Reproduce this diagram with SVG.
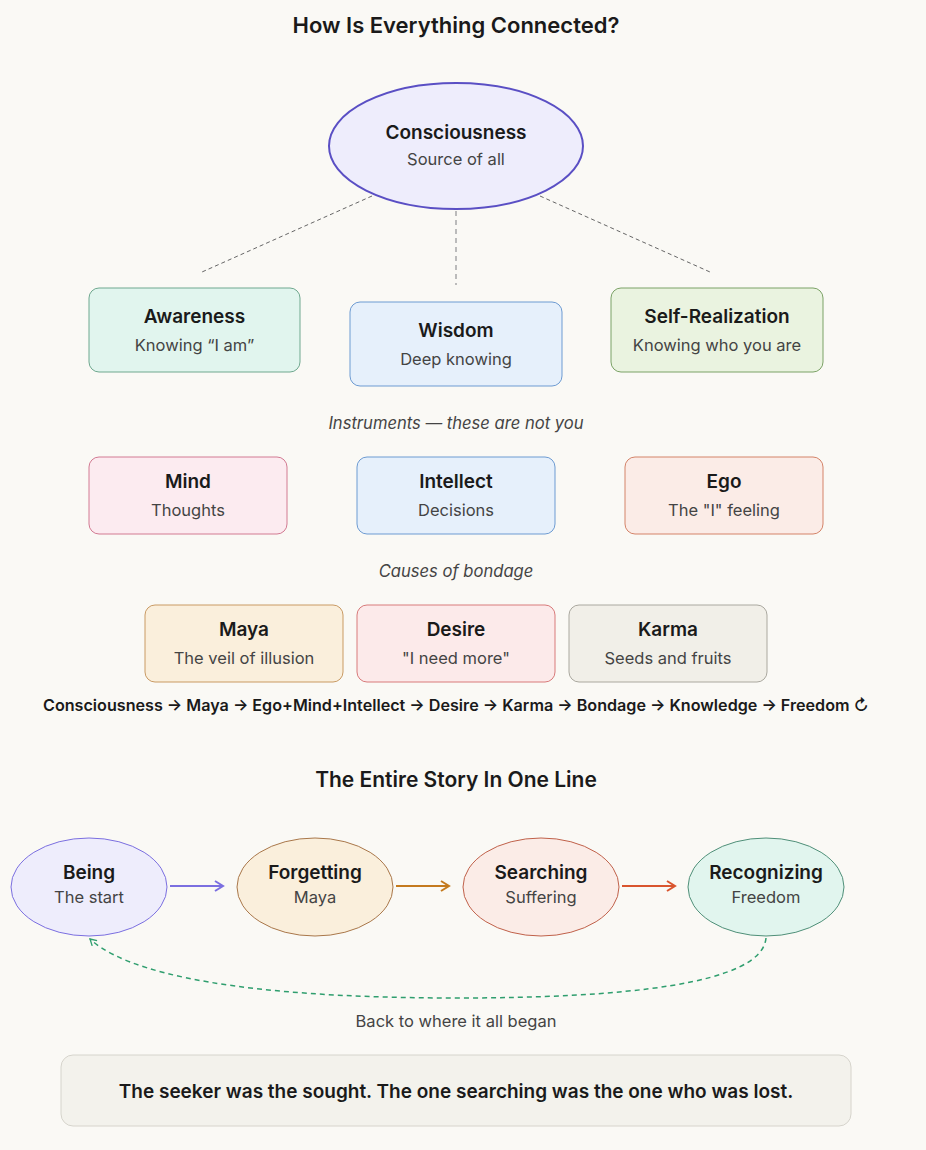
<svg xmlns="http://www.w3.org/2000/svg" width="926" height="1150" viewBox="0 0 926 1150">
<defs>
<style>
text{font-family:Inter,"Noto Sans","Liberation Sans",sans-serif;text-anchor:middle;dominant-baseline:central}
.h{font-size:22px;font-weight:600;fill:#1a1a1a}
.t{font-size:19px;font-weight:600;fill:#1a1a1a}
.s{font-size:16.5px;fill:#444}
.i{font-size:16.6px;font-style:italic;fill:#444}
</style>
<marker id="ap" viewBox="0 0 12 12" refX="10" refY="6" markerWidth="12" markerHeight="12" markerUnits="userSpaceOnUse" orient="auto"><path d="M2,1 L10,6 L2,11" fill="none" stroke="#7b6fe0" stroke-width="2"/></marker>
<marker id="ao" viewBox="0 0 12 12" refX="10" refY="6" markerWidth="12" markerHeight="12" markerUnits="userSpaceOnUse" orient="auto"><path d="M2,1 L10,6 L2,11" fill="none" stroke="#c47a1e" stroke-width="2"/></marker>
<marker id="ar" viewBox="0 0 12 12" refX="10" refY="6" markerWidth="12" markerHeight="12" markerUnits="userSpaceOnUse" orient="auto"><path d="M2,1 L10,6 L2,11" fill="none" stroke="#d9552e" stroke-width="2"/></marker>
<marker id="ag" viewBox="0 0 10 10" refX="8" refY="5" markerWidth="9" markerHeight="9" markerUnits="userSpaceOnUse" orient="auto"><path d="M1,1 L8,5 L1,9" fill="none" stroke="#2f9e6e" stroke-width="1.5"/></marker>
</defs>
<rect width="926" height="1150" fill="#faf9f5"/>
<text class="h" x="456" y="25">How Is Everything Connected?</text>

<g id="connectors">
<line x1="372" y1="196" x2="202" y2="272" stroke="#666" stroke-width="1" stroke-dasharray="4,3"/>
<line x1="456" y1="211" x2="456" y2="285" stroke="#bbb" stroke-width="2" stroke-dasharray="5,4"/>
<line x1="540" y1="196" x2="710" y2="272" stroke="#666" stroke-width="1" stroke-dasharray="4,3"/>
<line x1="170" y1="886" x2="223" y2="886" stroke="#7b6fe0" stroke-width="2" marker-end="url(#ap)"/>
<line x1="396" y1="886" x2="449" y2="886" stroke="#c47a1e" stroke-width="2" marker-end="url(#ao)"/>
<line x1="622" y1="886" x2="675" y2="886" stroke="#d9552e" stroke-width="2" marker-end="url(#ar)"/>
<path d="M766,938 C762,985 620,998 456,998 C300,998 140,985 90,939" fill="none" stroke="#2f9e6e" stroke-width="1.5" stroke-dasharray="5,4" marker-end="url(#ag)"/>
</g>

<g id="consciousness">
<ellipse cx="456" cy="146" rx="127" ry="63" fill="#eeedfc" stroke="#5a4fc4" stroke-width="2"/>
<text class="t" x="456" y="132">Consciousness</text>
<text class="s" x="456" y="159">Source of all</text>
</g>

<g id="awareness">
<rect x="89" y="288" width="211" height="84" rx="10" fill="#e1f5ee" stroke="#6fa88f"/>
<text class="t" x="194.5" y="316">Awareness</text>
<text class="s" x="194.5" y="345">Knowing “I am”</text>
</g>
<g id="wisdom">
<rect x="350" y="302" width="212" height="84" rx="10" fill="#e6f0fb" stroke="#6d9bd2"/>
<text class="t" x="456" y="330">Wisdom</text>
<text class="s" x="456" y="359">Deep knowing</text>
</g>
<g id="self-realization">
<rect x="611" y="288" width="212" height="84" rx="10" fill="#eaf3e0" stroke="#7ba266"/>
<text class="t" x="717" y="316">Self-Realization</text>
<text class="s" x="717" y="345">Knowing who you are</text>
</g>

<text class="i" x="456" y="423">Instruments — these are not you</text>

<g id="mind">
<rect x="89" y="457" width="198" height="77" rx="10" fill="#fcebf0" stroke="#d27a92"/>
<text class="t" x="188" y="481">Mind</text>
<text class="s" x="188" y="510">Thoughts</text>
</g>
<g id="intellect">
<rect x="357" y="457" width="198" height="77" rx="10" fill="#e6f0fb" stroke="#6d9bd2"/>
<text class="t" x="456" y="481">Intellect</text>
<text class="s" x="456" y="510">Decisions</text>
</g>
<g id="ego">
<rect x="625" y="457" width="198" height="77" rx="10" fill="#fbece7" stroke="#d48368"/>
<text class="t" x="724" y="481">Ego</text>
<text class="s" x="724" y="510">The "I" feeling</text>
</g>

<text class="i" x="456" y="571">Causes of bondage</text>

<g id="maya">
<rect x="145" y="605" width="198" height="77" rx="10" fill="#faefdc" stroke="#c99a63"/>
<text class="t" x="244" y="629">Maya</text>
<text class="s" x="244" y="658">The veil of illusion</text>
</g>
<g id="desire">
<rect x="357" y="605" width="198" height="77" rx="10" fill="#fceaea" stroke="#d87a7a"/>
<text class="t" x="456" y="629">Desire</text>
<text class="s" x="456" y="658">"I need more"</text>
</g>
<g id="karma">
<rect x="569" y="605" width="198" height="77" rx="10" fill="#f1efe8" stroke="#aaa89f"/>
<text class="t" x="668" y="629">Karma</text>
<text class="s" x="668" y="658">Seeds and fruits</text>
</g>

<text x="456" y="705" style="font-size:16px;font-weight:600;fill:#1a1a1a" textLength="826" lengthAdjust="spacingAndGlyphs">Consciousness → Maya → Ego+Mind+Intellect → Desire → Karma → Bondage → Knowledge → Freedom ↻</text>

<text class="h" x="456" y="779" style="font-size:21px">The Entire Story In One Line</text>

<g id="being">
<ellipse cx="89" cy="887" rx="78" ry="49" fill="#eeedfc" stroke="#7b6fe0"/>
<text class="t" x="89" y="872">Being</text>
<text class="s" x="89" y="897">The start</text>
</g>
<g id="forgetting">
<ellipse cx="315" cy="887" rx="78" ry="49" fill="#faefdc" stroke="#a9774a"/>
<text class="t" x="315" y="872">Forgetting</text>
<text class="s" x="315" y="897">Maya</text>
</g>
<g id="searching">
<ellipse cx="541" cy="887" rx="78" ry="49" fill="#fbece7" stroke="#c0614a"/>
<text class="t" x="541" y="872">Searching</text>
<text class="s" x="541" y="897">Suffering</text>
</g>
<g id="recognizing">
<ellipse cx="766" cy="887" rx="78" ry="49" fill="#e1f5ee" stroke="#4f8f78"/>
<text class="t" x="766" y="872">Recognizing</text>
<text class="s" x="766" y="897">Freedom</text>
</g>

<text class="s" x="456" y="1021">Back to where it all began</text>

<g id="quote">
<rect x="61" y="1055" width="790" height="71" rx="12" fill="#f3f2ec" stroke="#d6d4cc"/>
<text x="456" y="1091" style="font-size:19px;font-weight:600;fill:#1a1a1a">The seeker was the sought. The one searching was the one who was lost.</text>
</g>
</svg>
